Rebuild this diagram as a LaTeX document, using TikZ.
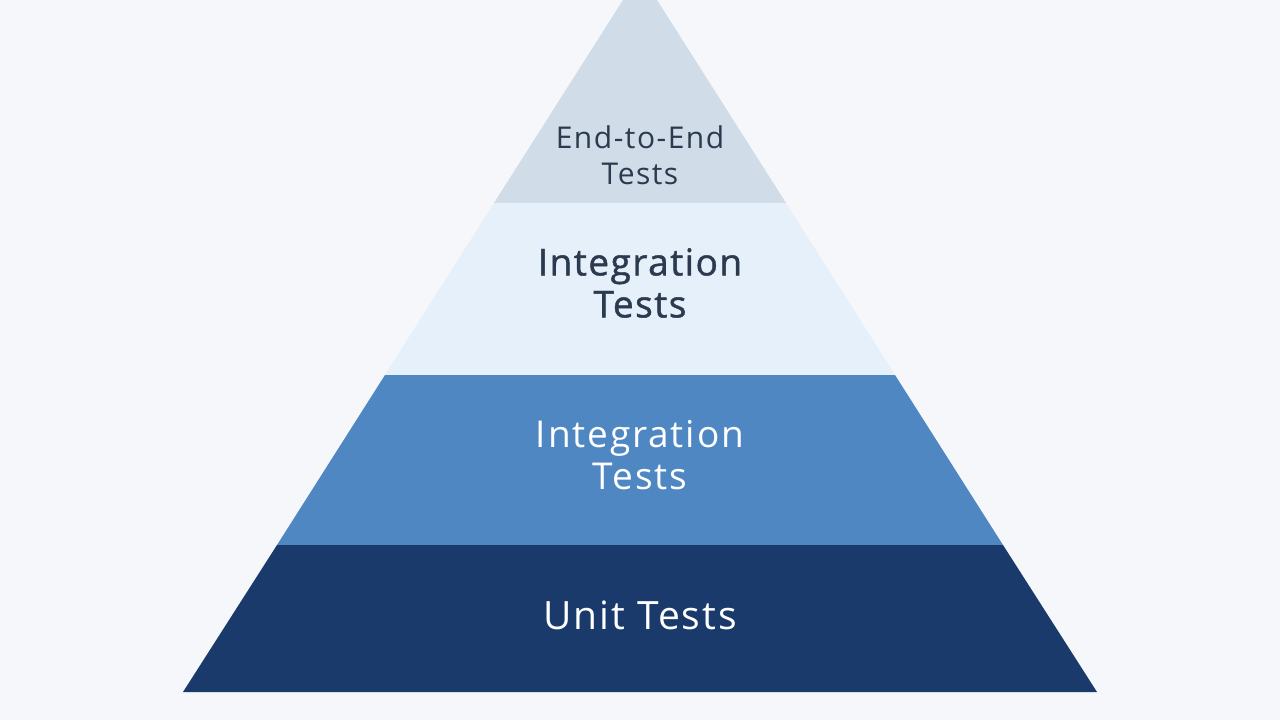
\documentclass[tikz,border=0pt]{standalone}
\usepackage{fontspec}
\setmainfont{Open Sans}[LetterSpace=5]
\newfontfamily\medfont{Open Sans}[LetterSpace=4,FakeBold=1.2]
\definecolor{bg}{HTML}{F5F7FA}
\definecolor{c1}{HTML}{D0DCE8}
\definecolor{c2}{HTML}{E6F0FA}
\definecolor{c3}{HTML}{4F87C3}
\definecolor{c4}{HTML}{1B3A6C}
\definecolor{t1}{HTML}{2B3A4E}
\begin{document}
\begin{tikzpicture}[x=1pt,y=-1pt,lbl/.style={align=center,inner sep=0pt}]
\fill[bg] (0,0) rectangle (1280,720);
\useasboundingbox (0,0) rectangle (1280,720);
\fill[c1] (623,0) -- (657,0) -- (786,203) -- (494,203) -- cycle;
\fill[c2] (494,203) -- (786,203) -- (895,375) -- (385,375) -- cycle;
\fill[c3] (385,375) -- (895,375) -- (1003,545) -- (277,545) -- cycle;
\fill[c4] (277,545) -- (1003,545) -- (1097,692) -- (183,692) -- cycle;
\node[lbl,text=t1,font=\fontsize{30}{36}\selectfont] (e2e) at (640,155) {End-to-End\\Tests};
\node[lbl,text=t1,font=\medfont\fontsize{37}{42}\selectfont] (int1) at (640,283) {Integration\\Tests};
\node[lbl,text=white,font=\fontsize{37}{42}\selectfont] (int2) at (640,455) {Integration\\Tests};
\node[lbl,text=white,font=\fontsize{39}{42}\selectfont] (unit) at (640,615) {Unit Tests};
\end{tikzpicture}
\end{document}
